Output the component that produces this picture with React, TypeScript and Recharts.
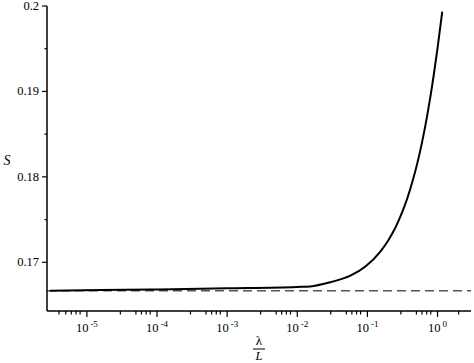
import React from "react";
import { LineChart, Line, XAxis, YAxis, ReferenceLine } from "recharts";

// lambda / L (log axis) and the entropy S
const ratio = [
  2.96e-6, 1.53e-5, 1e-4, 1e-3, 1e-2, 0.0153, 0.0296, 0.0572, 0.0936, 0.153,
  0.2, 0.251, 0.3, 0.369, 0.45, 0.513, 0.6, 0.713, 0.8, 0.885, 1.0, 1.167,
];
const entropy = [
  0.16667, 0.16675, 0.16683, 0.16696, 0.16712, 0.16718, 0.16767, 0.16843,
  0.16951, 0.17126, 0.17261, 0.17407, 0.17549, 0.17744, 0.17977, 0.18155,
  0.18401, 0.1872, 0.18963, 0.19198, 0.19507, 0.19935,
];
const asymptote = 1 / 6;

const xMajorTicks = [1e-5, 1e-4, 1e-3, 1e-2, 1e-1, 1];
const xExponents = ["-5", "-4", "-3", "-2", "-1", "0"];
const xMinorTicks = [
  4e-6, 5e-6, 6e-6, 7e-6, 8e-6,
  3e-5, 5e-5, 6e-5, 7e-5, 8e-5,
  3e-4, 5e-4, 6e-4, 7e-4, 8e-4,
  3e-3, 5e-3, 6e-3, 7e-3, 8e-3,
  3e-2, 5e-2, 6e-2, 7e-2, 8e-2,
  3e-1, 5e-1, 6e-1, 7e-1, 8e-1,
  2,
];
const yMajorTicks = [0.17, 0.18, 0.19, 0.2];
const yTickLabels = ["0.17", "0.18", "0.19", "0.2"];
const yMinorTicks = [0.175, 0.185, 0.195];

const data = ratio.map((r, i) => ({ r, s: entropy[i] }));

const serif = "Liberation Serif";

function XTick(props: any) {
  const { x, y, payload } = props;
  const idx = xMajorTicks.findIndex((t) => Math.abs(t - payload.value) < t * 1e-6);
  const major = idx >= 0;
  return (
    <g>
      <line x1={x} x2={x} y1={y} y2={y + (major ? 6 : 3.5)} stroke="#000" strokeWidth={1.2} />
      {major && (
        <text x={x} y={y + 21} textAnchor="middle" fontFamily={serif} fontSize={12.5} fill="#000">
          10
          <tspan dx={2} dy={-5} fontSize={9}>
            {xExponents[idx]}
          </tspan>
        </text>
      )}
    </g>
  );
}

function YTick(props: any) {
  const { x, y, payload } = props;
  const idx = yMajorTicks.findIndex((t) => Math.abs(t - payload.value) < 1e-9);
  const major = idx >= 0;
  return (
    <g>
      <line x1={x - (major ? 5 : 2.5)} x2={x} y1={y} y2={y} stroke="#000" strokeWidth={1.2} />
      {major && (
        <text x={x - 8} y={y + 4} textAnchor="end" fontFamily={serif} fontSize={12.5} fill="#000">
          {yTickLabels[idx]}
        </text>
      )}
    </g>
  );
}

const XLabel = (props: any) => {
  const { x, y, width } = props.viewBox;
  const cx = x + width / 2;
  return (
    <g fill="#000">
      <text x={cx} y={y + 34} textAnchor="middle" fontFamily={serif} fontSize={13}>
        λ
      </text>
      <line x1={cx - 6} x2={cx + 6} y1={y + 38} y2={y + 38} stroke="#000" strokeWidth={1} />
      <text x={cx} y={y + 48.5} textAnchor="middle" fontFamily={serif} fontSize={12.5} fontStyle="italic">
        L
      </text>
    </g>
  );
};

const YLabel = (props: any) => {
  const { x, y } = props.viewBox;
  return (
    <text x={x} y={y + 159} textAnchor="middle" fontFamily={serif} fontSize={14} fontStyle="italic" fill="#000">
      S
    </text>
  );
};

export default function App() {
  return (
    <div style={{ position: "absolute", left: 0, top: 0, background: "#fff" }}>
      <LineChart
        width={474}
        height={363}
        data={data}
        margin={{ top: 6, right: 3, bottom: 0, left: 7 }}
      >
        <XAxis
          dataKey="r"
          type="number"
          scale="log"
          domain={[2.7e-6, 3]}
          allowDataOverflow
          ticks={[...xMajorTicks, ...xMinorTicks].sort((a, b) => a - b)}
          interval={0}
          height={52}
          tickSize={0}
          tickMargin={0}
          tick={<XTick />}
          axisLine={{ stroke: "#000", strokeWidth: 1.5 }}
          label={<XLabel />}
        />
        <YAxis
          dataKey="s"
          type="number"
          domain={[0.1643, 0.2]}
          allowDataOverflow
          ticks={[...yMajorTicks, ...yMinorTicks].sort((a, b) => a - b)}
          interval={0}
          width={40}
          tickSize={0}
          tickMargin={0}
          tick={<YTick />}
          axisLine={{ stroke: "#000", strokeWidth: 1.5 }}
          label={<YLabel />}
        />
        <ReferenceLine
          y={asymptote}
          stroke="#555"
          strokeWidth={1.6}
          strokeDasharray="9 5"
        />
        <Line
          type="monotone"
          dataKey="s"
          stroke="#000"
          strokeWidth={2}
          dot={false}
          isAnimationActive={false}
        />
      </LineChart>
    </div>
  );
}
